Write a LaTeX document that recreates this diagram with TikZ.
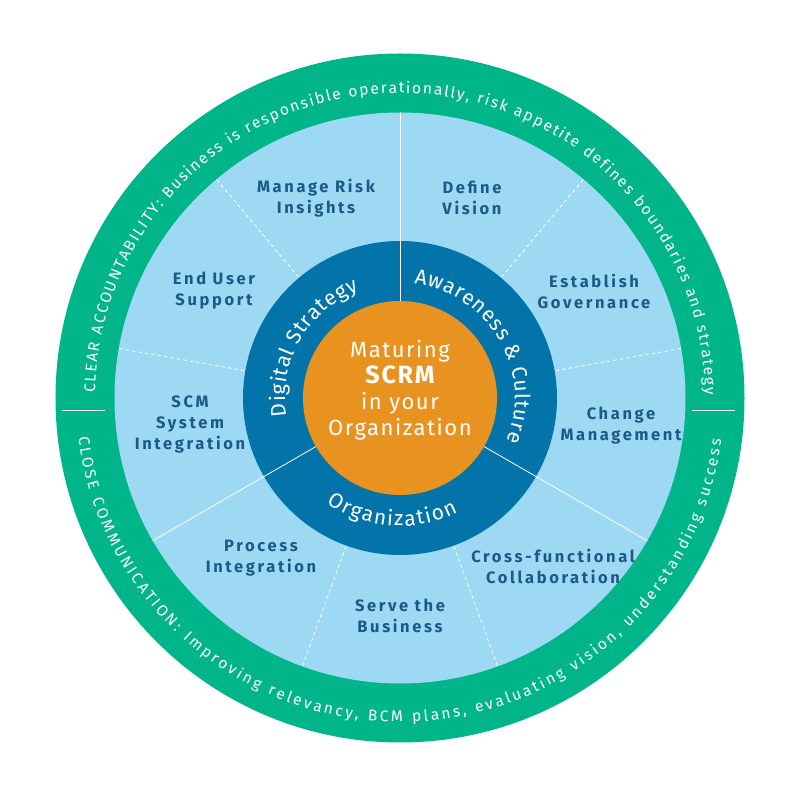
\documentclass[tikz,border=0pt]{standalone}
\usepackage{fontspec}
\setmainfont{Fira Sans}
\newfontfamily\lblfont[LetterSpace=16]{Fira Sans}
\newfontfamily\ctrfont[LetterSpace=7]{Fira Sans}
\usetikzlibrary{decorations.text}
\definecolor{ringgreen}{RGB}{0,181,138}
\definecolor{lightblue}{RGB}{157,217,243}
\definecolor{darkblue}{RGB}{2,116,169}
\definecolor{coreorange}{RGB}{232,147,31}
\definecolor{labelblue}{RGB}{27,90,135}
\tikzset{
  solidsep/.style={white, line width=0.8pt},
  dashsep/.style={white, line width=0.8pt, dash pattern=on 3.5pt off 3pt},
  lbl/.style={text=labelblue, align=center, font=\lblfont\bfseries\fontsize{16.5}{21}\selectfont},
  arctext/.style={decorate, decoration={text along path, text align=fit to path, text color=white, text={#1}}}
}
\begin{document}
\begin{tikzpicture}[x=1pt,y=1pt]
\useasboundingbox (-400,-402) rectangle (400,398);
% rings
\fill[ringgreen] (0,0) circle (344.5);
\fill[lightblue] (0,0) circle (285.5);
\fill[darkblue] (0,0) circle (157);
\fill[coreorange] (0,0) circle (97);
% separators
\foreach \a in {90,210,330} \draw[solidsep] (\a:97) -- (\a:285.5);
\foreach \a in {10,50,130,170,250,290} \draw[dashsep] (\a:158) -- (\a:285.5);
\draw[solidsep] (-338,-12) -- (-295,-12);
\draw[solidsep] (292,-12) -- (335,-12);
% labels
\node[lbl] (mri) at (-84,200) {Manage Risk\\Insights};
\node[lbl] (dv) at (72,200) {Define\\Vision};
\node[lbl] (eus) at (-186,107) {End User\\Support};
\node[lbl] (eg) at (194,107) {Establish\\Governance};
\node[lbl] (scm) at (-210,-26) {SCM\\System\\Integration};
\node[lbl] (cm) at (221,-28) {Change\\Management};
\node[lbl] (pi) at (-139,-160) {Process\\Integration};
\node[lbl] (cfc) at (153,-168) {Cross-functional\\Collaboration};
\node[lbl] (stb) at (0,-218) {Serve the\\Business};
% core
\node[text=white, align=center, font=\ctrfont\fontsize{22}{26}\selectfont] (core) at (0,8)
  {Maturing\\{\bfseries\fontsize{25}{26}\selectfont SCRM}\\in your\\Organization};
% dark ring texts
\path[arctext={|\fontsize{21}{24}\selectfont|Digital Strategy}] (189:115) arc[start angle=189, end angle=111, radius=115];
\path[arctext={|\fontsize{21}{24}\selectfont|Awareness {\&} Culture}] (83:115) arc[start angle=83, end angle=-22, radius=115];
\path[arctext={|\fontsize{21}{24}\selectfont|Organization}] (235:128) arc[start angle=235, end angle=297, radius=128];
% green ring texts
\path[arctext={|\fontsize{15.5}{18}\selectfont|CLEAR ACCOUNTABILITY: Business is responsible operationally, risk appetite defines boundaries and strategy}] (179:305) arc[start angle=179, end angle=0.6, radius=305];
\path[arctext={|\fontsize{15.5}{18}\selectfont|CLOSE COMMUNICATION: Improving relevancy, BCM plans, evaluating vision, understanding success}] (187:324) arc[start angle=187, end angle=352.5, radius=324];
\end{tikzpicture}
\end{document}
